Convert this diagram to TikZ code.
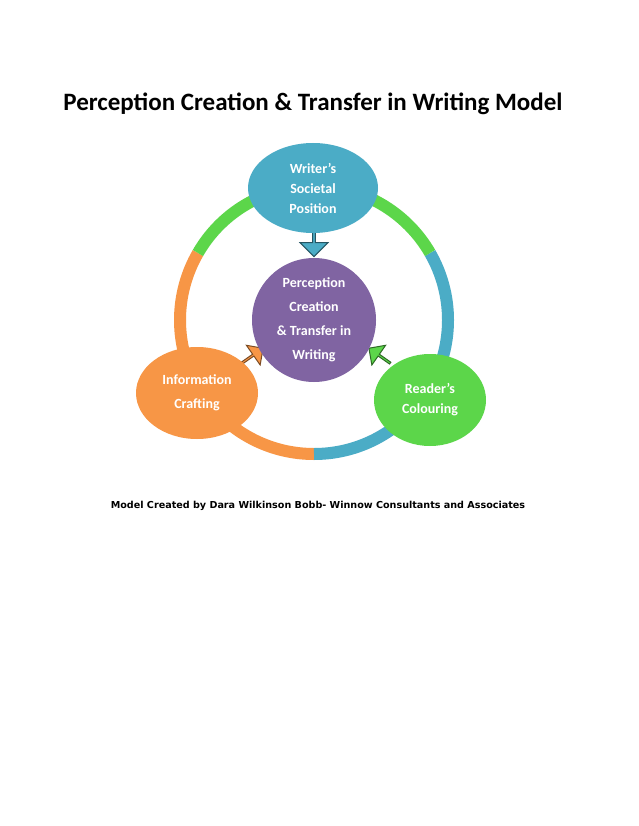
\documentclass[tikz,border=0pt]{standalone}
\usepackage{fontspec}
\setmainfont{Carlito}
\newfontfamily\footfont{DejaVu Sans}
\usetikzlibrary{shapes.arrows,shapes.geometric}
\definecolor{cblue}{HTML}{4BACC6}
\definecolor{corange}{HTML}{F79646}
\definecolor{cgreen}{HTML}{5CD64A}
\definecolor{cpurple}{HTML}{8064A2}
\begin{document}
\begin{tikzpicture}[x=1pt,y=-1pt,
  bub/.style={ellipse, draw=none, text=white, font=\bfseries\fontsize{14}{20}\selectfont, align=center, inner sep=0pt},
  ring/.style={line width=12pt},
  barrow/.style={single arrow, draw=#1!50!black, line width=1pt, minimum height=32pt, minimum width=28pt, single arrow head extend=5pt, inner sep=0pt}]
\useasboundingbox[fill=white] (0,0) rectangle (638,826);
\node[font=\bfseries\fontsize{25}{30}\selectfont] (title) at (313,104) {Perception Creation \& Transfer in Writing Model};
\coordinate (c) at (314,320);
\draw[ring,corange] (c) ++(90:134) arc[start angle=90,end angle=210,radius=134];
\draw[ring,cblue] (c) ++(90:134) arc[start angle=90,end angle=-30,radius=134];
\draw[ring,cgreen] (c) ++(210:134) arc[start angle=210,end angle=330,radius=134];
\node[barrow=cblue, fill=cblue, rotate=-90] (a1) at (314,240) {};
\node[barrow=corange, fill=corange, rotate=35, minimum height=26pt, minimum width=24pt] (a2) at (252,356) {};
\node[barrow=cgreen, fill=cgreen, rotate=145, minimum height=26pt, minimum width=24pt] (a3) at (380,356) {};
\node[bub, fill=cblue, minimum width=130pt, minimum height=90pt] (w) at (313,188) {Writer’s\\Societal\\Position};
\node[circle, fill=cpurple, text=white, font=\bfseries\fontsize{14}{24}\selectfont, align=center, minimum size=124pt, inner sep=0pt] (p) at (314,320) {Perception\\Creation\\\& Transfer in\\Writing};
\node[bub, fill=corange, minimum width=122pt, minimum height=92pt, font=\bfseries\fontsize{14}{24}\selectfont] (i) at (197,393) {Information\\Crafting};
\node[bub, fill=cgreen, minimum width=112pt, minimum height=92pt] (r) at (430,400) {Reader’s\\Colouring};
\node[font=\footfont\bfseries\fontsize{9.6}{12}\selectfont] (foot) at (318,506) {Model Created by Dara Wilkinson Bobb- Winnow Consultants and Associates};
\end{tikzpicture}
\end{document}
